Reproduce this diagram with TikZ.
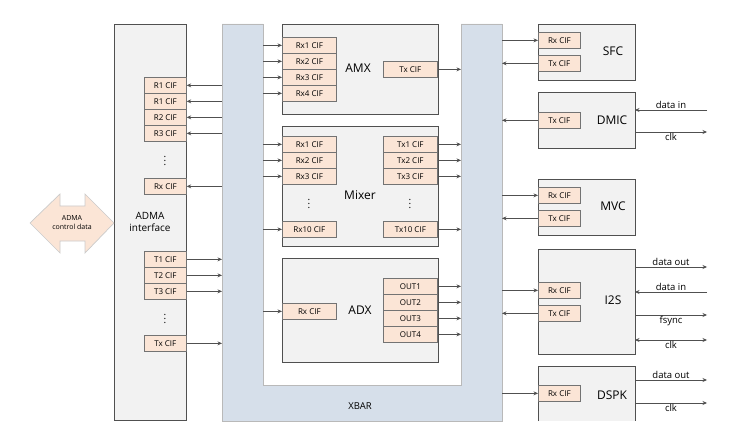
\documentclass[tikz,border=0pt]{standalone}
\usepackage{fontspec}
\setmainfont{Open Sans}
\usetikzlibrary{arrows.meta}
\definecolor{boxfill}{HTML}{F2F2F2}
\definecolor{ciffill}{HTML}{FBE5D6}
\definecolor{xbarfill}{HTML}{D6DFEA}
\definecolor{linec}{HTML}{505050}
\tikzset{
  blk/.style={draw=linec, fill=boxfill, line width=0.8pt},
  cif/.style={draw=linec!80, fill=ciffill, line width=0.7pt, anchor=north west,
    inner sep=0pt, minimum height=16pt, font=\fontsize{8}{9}\selectfont},
  cifw/.style={cif, minimum width=54pt},
  cifn/.style={cif, minimum width=42pt},
  arr/.style={draw=linec, line width=0.7pt, -{Stealth[length=4.5pt,width=4pt]}},
  darr/.style={arr, {Stealth[length=4.5pt,width=4pt]}-{Stealth[length=4.5pt,width=4pt]}},
  big/.style={font=\fontsize{12}{14}\selectfont},
  sig/.style={font=\fontsize{9.5}{10}\selectfont, inner sep=1pt},
  dots/.style={inner sep=0pt, font=\fontsize{10}{12}\selectfont}
}
\begin{document}
\begin{tikzpicture}[x=1pt,y=-1pt]
\useasboundingbox (0,0) rectangle (738,446);
% XBAR
\fill[xbarfill, draw=linec!40, line width=0.8pt]
  (222,24) -- (263,24) -- (263,385) -- (461,385) -- (461,24) -- (502,24)
  -- (502,421) -- (222,421) -- cycle;
\node[sig] (xbar) at (360,406) {XBAR};
\coordinate (xl) at (263,0);
\coordinate (xr) at (461,0);
\coordinate (xo) at (502,0);
\coordinate (xi) at (222,0);

% ADMA interface
\draw[blk] (114,24) rectangle (186,420);
\node[align=center, font=\fontsize{10}{12}\selectfont] (adma) at (150,222) {ADMA\\interface};
\fill[ciffill, draw=linec!30, line width=0.7pt]
  (30,223) -- (60,194) -- (60,206) -- (85,206) -- (85,194) -- (114,223)
  -- (85,253) -- (85,241) -- (60,241) -- (60,253) -- cycle;
\node[align=center, font=\fontsize{7}{9}\selectfont] (ctl) at (72,223) {ADMA\\control data};
\node[cifn] (r1) at (144,77) {R1 CIF};
\node[cifn] (r1b) at (144,93) {R1 CIF};
\node[cifn] (r2) at (144,109) {R2 CIF};
\node[cifn] (r3) at (144,125) {R3 CIF};
\node[dots] (rd) at (165,158) {$\vdots$};
\node[cifn] (rx) at (144,178) {Rx CIF};
\node[cifn] (t1) at (144,251) {T1 CIF};
\node[cifn] (t2) at (144,267) {T2 CIF};
\node[cifn] (t3) at (144,283) {T3 CIF};
\node[dots] (td) at (165,316) {$\vdots$};
\node[cifn] (tx) at (144,335) {Tx CIF};
\foreach \n in {r1,r1b,r2,r3,rx} \draw[arr] (xi |- \n.east) -- (\n.east);
\foreach \n in {t1,t2,t3,tx} \draw[arr] (\n.east) -- (xi |- \n.east);

% AMX
\draw[blk] (282,24) rectangle (438,114);
\node[big] (amx) at (358,68) {AMX};
\node[cifw] (ar1) at (282,37) {Rx1 CIF};
\node[cifw] (ar2) at (282,53) {Rx2 CIF};
\node[cifw] (ar3) at (282,69) {Rx3 CIF};
\node[cifw] (ar4) at (282,85) {Rx4 CIF};
\node[cifw] (at) at (383,61) {Tx CIF};
\foreach \n in {ar1,ar2,ar3,ar4} \draw[arr] (xl |- \n.west) -- (\n.west);
\draw[arr] (at.east) -- (xr |- at.east);

% Mixer
\draw[blk] (282,126) rectangle (438,246);
\node[big] (mix) at (360,195) {Mixer};
\node[cifw] (mr1) at (282,136) {Rx1 CIF};
\node[cifw] (mr2) at (282,152) {Rx2 CIF};
\node[cifw] (mr3) at (282,168) {Rx3 CIF};
\node[dots] (mrd) at (309,201) {$\vdots$};
\node[cifw] (mr10) at (282,221) {Rx10 CIF};
\node[cifw] (mt1) at (383,136) {Tx1 CIF};
\node[cifw] (mt2) at (383,152) {Tx2 CIF};
\node[cifw] (mt3) at (383,168) {Tx3 CIF};
\node[dots] (mtd) at (410,201) {$\vdots$};
\node[cifw] (mt10) at (383,221) {Tx10 CIF};
\foreach \n in {mr1,mr2,mr3,mr10} \draw[arr] (xl |- \n.west) -- (\n.west);
\foreach \n in {mt1,mt2,mt3,mt10} \draw[arr] (\n.east) -- (xr |- \n.east);

% ADX
\draw[blk] (282,258) rectangle (438,362);
\node[big] (adx) at (360,310) {ADX};
\node[cifw] (dr) at (282,303) {Rx CIF};
\node[cifw] (o1) at (383,278) {OUT1};
\node[cifw] (o2) at (383,294) {OUT2};
\node[cifw] (o3) at (383,310) {OUT3};
\node[cifw] (o4) at (383,326) {OUT4};
\draw[arr] (xl |- dr.west) -- (dr.west);
\foreach \n in {o1,o2,o3,o4} \draw[arr] (\n.east) -- (xr |- \n.east);

% right side
% SFC
\draw[blk] (538,24) rectangle (635,80);
\node[big] (sfc) at (613,51) {SFC};
\node[cifn] (sr) at (538,32) {Rx CIF};
\node[cifn] (st) at (538,55) {Tx CIF};
\draw[arr] (xo |- sr.west) -- (sr.west);
\draw[arr] (st.west) -- (xo |- st.west);
% DMIC
\draw[blk] (538,92) rectangle (635,148);
\node[big] (dmic) at (612,120) {DMIC};
\node[cifn] (dt) at (538,112) {Tx CIF};
\draw[arr] (dt.west) -- (xo |- dt.west);
\coordinate (dmi) at (707,110);
\coordinate (dmc) at (707,132);
\draw[arr] (dmi) -- (dmi -| 635,0) node[sig, midway, above] {data in};
\draw[arr] (dmc -| 635,0) -- (dmc) node[sig, midway, below] {clk};
% MVC
\draw[blk] (538,179) rectangle (635,235);
\node[big] (mvc) at (613,206) {MVC};
\node[cifn] (vr) at (538,187) {Rx CIF};
\node[cifn] (vt) at (538,210) {Tx CIF};
\draw[arr] (xo |- vr.west) -- (vr.west);
\draw[arr] (vt.west) -- (xo |- vt.west);
% I2S
\draw[blk] (538,249) rectangle (635,354);
\node[big] (i2s) at (613,300) {I2S};
\node[cifn] (ir) at (538,282) {Rx CIF};
\node[cifn] (it) at (538,305) {Tx CIF};
\draw[arr] (xo |- ir.west) -- (ir.west);
\draw[arr] (it.west) -- (xo |- it.west);
\coordinate (i1) at (707,267);
\coordinate (i2) at (707,292);
\coordinate (i3) at (707,315);
\coordinate (i4) at (707,340);
\draw[arr] (i1 -| 635,0) -- (i1) node[sig, midway, above] {data out};
\draw[arr] (i2) -- (i2 -| 635,0) node[sig, midway, above] {data in};
\draw[arr] (i3 -| 635,0) -- (i3) node[sig, midway, below] {fsync};
\draw[darr] (i4 -| 635,0) -- (i4) node[sig, midway, below] {clk};
% DSPK
\draw[blk] (538,421) -- (538,366) -- (635,366) -- (635,421);
\node[big] (dspk) at (612,395) {DSPK};
\node[cifn] (pr) at (538,385) {Rx CIF};
\draw[arr] (xo |- pr.west) -- (pr.west);
\coordinate (p1) at (707,380);
\coordinate (p2) at (707,403);
\draw[arr] (p1 -| 635,0) -- (p1) node[sig, midway, above] {data out};
\draw[arr] (p2 -| 635,0) -- (p2) node[sig, midway, below] {clk};
\end{tikzpicture}
\end{document}
